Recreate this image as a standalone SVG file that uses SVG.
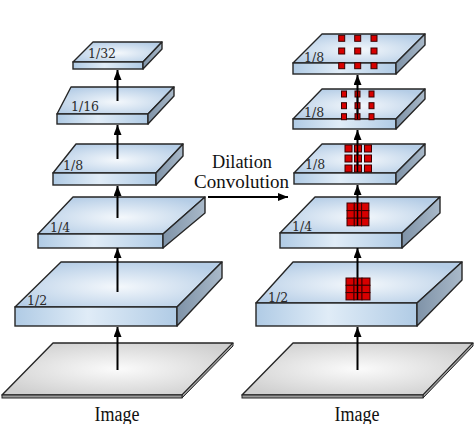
<svg xmlns="http://www.w3.org/2000/svg" width="474" height="424" viewBox="0 0 474 424">
<style>
.top{fill:url(#gTop);stroke:#262626;stroke-width:1.4;stroke-linejoin:round}
.front{fill:url(#gFront);stroke:#262626;stroke-width:1.4}
.side{fill:url(#gSide);stroke:#262626;stroke-width:1.4;stroke-linejoin:round}
.itop{fill:url(#gImg);stroke:#262626;stroke-width:1.4;stroke-linejoin:round}
.iedge{fill:#9a9a9a;stroke:#262626;stroke-width:1}
.lbl{font-family:"DejaVu Serif","Liberation Serif",serif;font-size:12.5px;fill:#2a2a2a}
.cap{font-family:"Liberation Serif","Times New Roman",serif;fill:#111}
.arr{stroke:#000;stroke-width:2;fill:none;marker-end:url(#ah)}
.sq{fill:#d80000;stroke:#3a0000;stroke-width:1}
</style>
<defs>
<radialGradient id="gTop" cx="0.5" cy="0.55" r="0.6">
<stop offset="0" stop-color="#f4f8fc"/>
<stop offset="1" stop-color="#b5cde6"/>
</radialGradient>
<linearGradient id="gFront" x1="0" y1="0" x2="1" y2="0">
<stop offset="0" stop-color="#b0cbe5"/>
<stop offset="0.45" stop-color="#e0ecf7"/>
<stop offset="1" stop-color="#b0cbe5"/>
</linearGradient>
<linearGradient id="gSide" x1="0" y1="0" x2="1" y2="0">
<stop offset="0" stop-color="#7f93a8"/>
<stop offset="1" stop-color="#a9b9c9"/>
</linearGradient>
<radialGradient id="gImg" cx="0.5" cy="0.5" r="0.6">
<stop offset="0" stop-color="#fbfbfb"/>
<stop offset="1" stop-color="#cfcfcf"/>
</radialGradient>
<marker id="ah" viewBox="0 0 10 8" refX="10" refY="4" markerWidth="10" markerHeight="8" orient="auto" markerUnits="userSpaceOnUse">
<path d="M0,0 L10,4 L0,8 Z" fill="#000"/>
</marker>
</defs>

<!-- Left column -->
<g id="L-image">
<path class="itop" d="M2,395 L53,343 L233,343 L182,395 Z"/>
<path class="iedge" d="M182,395 L233,343 L233,346 L182,398 Z"/>
<rect class="iedge" x="2" y="395" width="180" height="3"/>
<text class="cap" x="117" y="421" font-size="20" text-anchor="middle" textLength="45" lengthAdjust="spacingAndGlyphs">Image</text>
</g>
<g id="L-half">
<path class="top" d="M15,307 L61,262 L222,262 L177,307 Z"/>
<rect class="front" x="15" y="307" width="162" height="19"/>
<path class="side" d="M177,307 L222,262 L222,278 L177,326 Z"/>
<text class="lbl" x="27" y="305">1/2</text>
</g>
<g id="L-quarter">
<path class="top" d="M38,234 L73,197 L205,197 L163,234 Z"/>
<rect class="front" x="38" y="234" width="125" height="14"/>
<path class="side" d="M163,234 L205,197 L205,213 L163,248 Z"/>
<text class="lbl" x="50" y="232">1/4</text>
</g>
<g id="L-eighth">
<path class="top" d="M53,173 L76,144 L183,144 L156,173 Z"/>
<rect class="front" x="53" y="173" width="103" height="12"/>
<path class="side" d="M156,173 L183,144 L183,156 L156,185 Z"/>
<text class="lbl" x="63" y="170">1/8</text>
</g>
<g id="L-sixteenth">
<path class="top" d="M57,114 L71,87 L174,87 L148,114 Z"/>
<rect class="front" x="57" y="114" width="91" height="10"/>
<path class="side" d="M148,114 L174,87 L174,96 L148,124 Z"/>
<text class="lbl" x="71" y="111">1/16</text>
</g>
<g id="L-32nd">
<path class="top" d="M73,62 L93,42 L162,42 L143,62 Z"/>
<rect class="front" x="73" y="62" width="70" height="7"/>
<path class="side" d="M143,62 L162,42 L162,49 L143,69 Z"/>
<text class="lbl" x="88" y="58">1/32</text>
</g>

<!-- Right column -->
<g id="R-image">
<path class="itop" d="M242,395 L293,343 L473,343 L423,395 Z"/>
<path class="iedge" d="M423,395 L473,343 L473,346 L423,398 Z"/>
<rect class="iedge" x="242" y="395" width="181" height="3"/>
<text class="cap" x="357" y="421" font-size="20" text-anchor="middle" textLength="45" lengthAdjust="spacingAndGlyphs">Image</text>
</g>
<g id="R-half">
<path class="top" d="M256,303 L293,262 L462,262 L417,303 Z"/>
<rect class="front" x="256" y="303" width="161" height="23"/>
<path class="side" d="M417,303 L462,262 L462,280 L417,326 Z"/>
<text class="lbl" x="268" y="302">1/2</text>
</g>
<g id="R-quarter">
<path class="top" d="M280,233 L315,197 L440,197 L402,233 Z"/>
<rect class="front" x="280" y="233" width="122" height="15"/>
<path class="side" d="M402,233 L440,197 L440,213 L402,248 Z"/>
<text class="lbl" x="292" y="231">1/4</text>
</g>
<g id="R-eighth-c">
<path class="top" d="M294,173 L322,144 L425,144 L396,173 Z"/>
<rect class="front" x="294" y="173" width="102" height="11"/>
<path class="side" d="M396,173 L425,144 L425,155 L396,184 Z"/>
<text class="lbl" x="305" y="169">1/8</text>
</g>
<g id="R-eighth-b">
<path class="top" d="M293,119 L322,89 L425,89 L396,119 Z"/>
<rect class="front" x="293" y="119" width="103" height="10"/>
<path class="side" d="M396,119 L425,89 L425,99 L396,129 Z"/>
<text class="lbl" x="304" y="117">1/8</text>
</g>
<g id="R-eighth-a">
<path class="top" d="M293,63 L322,34 L425,34 L396,63 Z"/>
<rect class="front" x="293" y="63" width="103" height="11"/>
<path class="side" d="M396,63 L425,34 L425,45 L396,74 Z"/>
<text class="lbl" x="304" y="62">1/8</text>
</g>

<!-- Connectors -->
<g id="connectors">
<line class="arr" x1="117.5" y1="370" x2="117.5" y2="327"/>
<line class="arr" x1="117.5" y1="292" x2="117.5" y2="248"/>
<line class="arr" x1="117.5" y1="218" x2="117.5" y2="186"/>
<line class="arr" x1="117.5" y1="159" x2="117.5" y2="125"/>
<line class="arr" x1="117.5" y1="101" x2="117.5" y2="70"/>
<line class="arr" x1="357.5" y1="370" x2="357.5" y2="327"/>
<line class="arr" x1="357.5" y1="292" x2="357.5" y2="248"/>
<line class="arr" x1="357.5" y1="220" x2="357.5" y2="185"/>
<line class="arr" x1="357.5" y1="165" x2="357.5" y2="130"/>
<line class="arr" x1="357.5" y1="113" x2="357.5" y2="75"/>
<line class="arr" x1="208" y1="197" x2="288" y2="197"/>
</g>
<g id="dilation-label">
<text class="cap" x="242" y="168" font-size="18" text-anchor="middle" textLength="60" lengthAdjust="spacingAndGlyphs">Dilation</text>
<text class="cap" x="241.5" y="188" font-size="18" text-anchor="middle" textLength="95" lengthAdjust="spacingAndGlyphs">Convolution</text>
</g>

<!-- Dilated kernels -->
<g id="kernel-half">
<rect class="sq" x="346" y="278" width="8" height="7.3"/>
<rect class="sq" x="354" y="278" width="8" height="7.3"/>
<rect class="sq" x="362" y="278" width="8" height="7.3"/>
<rect class="sq" x="346" y="285.3" width="8" height="7.3"/>
<rect class="sq" x="354" y="285.3" width="8" height="7.3"/>
<rect class="sq" x="362" y="285.3" width="8" height="7.3"/>
<rect class="sq" x="346" y="292.6" width="8" height="7.3"/>
<rect class="sq" x="354" y="292.6" width="8" height="7.3"/>
<rect class="sq" x="362" y="292.6" width="8" height="7.3"/>
</g>
<g id="kernel-quarter">
<rect class="sq" x="347" y="203" width="7.3" height="7.6"/>
<rect class="sq" x="354.3" y="203" width="7.3" height="7.6"/>
<rect class="sq" x="361.6" y="203" width="7.3" height="7.6"/>
<rect class="sq" x="347" y="210.6" width="7.3" height="7.6"/>
<rect class="sq" x="354.3" y="210.6" width="7.3" height="7.6"/>
<rect class="sq" x="361.6" y="210.6" width="7.3" height="7.6"/>
<rect class="sq" x="347" y="218.2" width="7.3" height="7.6"/>
<rect class="sq" x="354.3" y="218.2" width="7.3" height="7.6"/>
<rect class="sq" x="361.6" y="218.2" width="7.3" height="7.6"/>
</g>
<g id="kernel-eighth-c">
<rect class="sq" x="345" y="145" width="7" height="7"/>
<rect class="sq" x="354.5" y="145" width="7" height="7"/>
<rect class="sq" x="364.5" y="145" width="7" height="7"/>
<rect class="sq" x="345" y="155" width="7" height="7"/>
<rect class="sq" x="354.5" y="155" width="7" height="7"/>
<rect class="sq" x="364.5" y="155" width="7" height="7"/>
<rect class="sq" x="345" y="165" width="7" height="7"/>
<rect class="sq" x="354.5" y="165" width="7" height="7"/>
<rect class="sq" x="364.5" y="165" width="7" height="7"/>
</g>
<g id="kernel-eighth-b">
<rect class="sq" x="341.5" y="91" width="5" height="6"/>
<rect class="sq" x="355" y="91" width="5" height="6"/>
<rect class="sq" x="369" y="91" width="5" height="6"/>
<rect class="sq" x="341.5" y="102.7" width="5" height="6"/>
<rect class="sq" x="355" y="102.7" width="5" height="6"/>
<rect class="sq" x="369" y="102.7" width="5" height="6"/>
<rect class="sq" x="341.5" y="113.7" width="5" height="6"/>
<rect class="sq" x="355" y="113.7" width="5" height="6"/>
<rect class="sq" x="369" y="113.7" width="5" height="6"/>
</g>
<g id="kernel-eighth-a">
<rect class="sq" x="338.7" y="35.3" width="6" height="6"/>
<rect class="sq" x="354.7" y="35.3" width="6" height="6"/>
<rect class="sq" x="371" y="35.3" width="6" height="6"/>
<rect class="sq" x="338.7" y="48" width="6" height="6"/>
<rect class="sq" x="354.7" y="48" width="6" height="6"/>
<rect class="sq" x="371" y="48" width="6" height="6"/>
<rect class="sq" x="338.7" y="62.7" width="6" height="6"/>
<rect class="sq" x="354.7" y="62.7" width="6" height="6"/>
<rect class="sq" x="371" y="62.7" width="6" height="6"/>
</g>
<g id="kernel-lines">
<line x1="357.5" y1="300" x2="357.5" y2="278" stroke="#000" stroke-width="1.5"/>
<line x1="357.5" y1="226" x2="357.5" y2="203" stroke="#000" stroke-width="1.5"/>
<line x1="357.5" y1="172" x2="357.5" y2="145" stroke="#000" stroke-width="1.5"/>
<line x1="357.5" y1="119" x2="357.5" y2="91" stroke="#000" stroke-width="1.5"/>
</g>
</svg>
